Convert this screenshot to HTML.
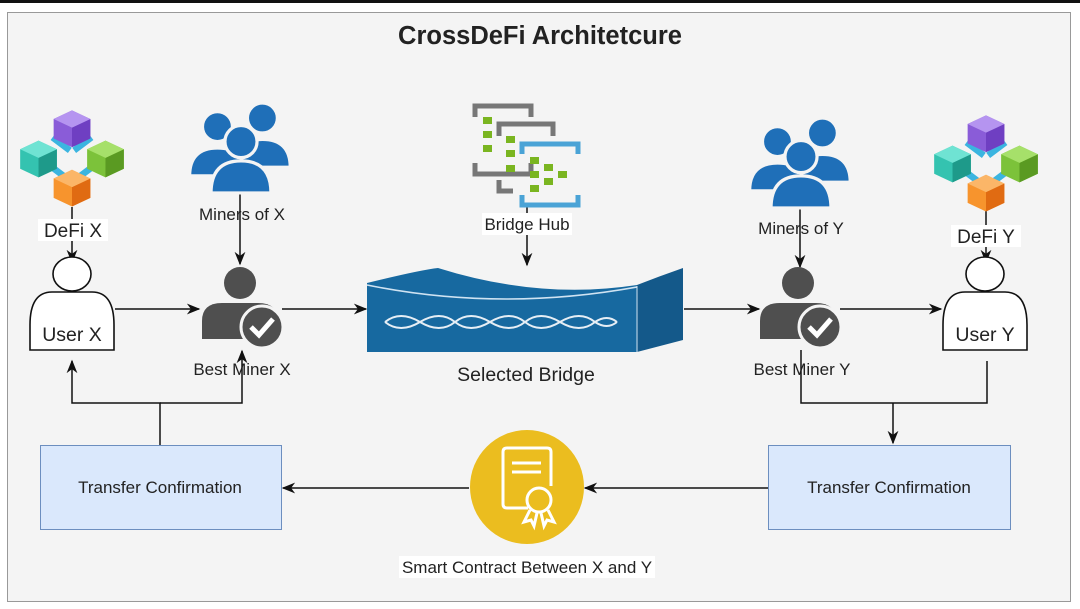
<!DOCTYPE html>
<html><head><meta charset="utf-8"><style>
html,body{margin:0;padding:0;background:#fff;width:1080px;height:609px;overflow:hidden}
text{font-family:"Liberation Sans",Arial,sans-serif;fill:#222}
</style></head><body>
<svg width="1080" height="609" viewBox="0 0 1080 609" xmlns="http://www.w3.org/2000/svg">
<defs>
<marker id="a" viewBox="0 0 10 10" refX="9" refY="5" markerWidth="9" markerHeight="9" orient="auto"><path d="M0,1 L10,5 L0,9 L3,5 Z" fill="#111"/></marker>
<g id="cubes">
<path d="M-18,-20 L-2,-8 M18,-20 L2,-8 M-18,8 L-2,20 M18,8 L2,20" stroke="#3bb5e0" stroke-width="6"/>
<g transform="translate(0,-28)"><polygon points="0,-17 17,-9 17,9 0,17 -17,9 -17,-9" fill="#8a5cd8"/><polygon points="0,-1 17,-9 17,9 0,17" fill="#6f3fc2"/><polygon points="0,-17 17,-9 0,-1 -17,-9" fill="#b594f0"/></g>
<g transform="translate(-31,0)"><polygon points="0,-17 17,-9 17,9 0,17 -17,9 -17,-9" fill="#34c3b0"/><polygon points="0,-1 17,-9 17,9 0,17" fill="#1e9a8a"/><polygon points="0,-17 17,-9 0,-1 -17,-9" fill="#6fe3d3"/></g>
<g transform="translate(31,0)"><polygon points="0,-17 17,-9 17,9 0,17 -17,9 -17,-9" fill="#7cc23a"/><polygon points="0,-1 17,-9 17,9 0,17" fill="#5a9a22"/><polygon points="0,-17 17,-9 0,-1 -17,-9" fill="#a6e06a"/></g>
<g transform="translate(0,27)"><polygon points="0,-17 17,-9 17,9 0,17 -17,9 -17,-9" fill="#f7942d"/><polygon points="0,-1 17,-9 17,9 0,17" fill="#e06b12"/><polygon points="0,-17 17,-9 0,-1 -17,-9" fill="#fbb668"/></g>
</g>
<g id="people" fill="#1f6fb8" stroke="#f4f4f4" stroke-width="3">
<circle cx="20" cy="-28" r="14"/><path d="M-6,18 Q-6,-8 20,-8 Q46,-8 46,18 Z"/>
<circle cx="-22" cy="-20" r="14"/><path d="M-48,26 Q-48,0 -22,0 Q4,0 4,26 Z"/>
<circle cx="0" cy="-6" r="15"/><path d="M-28,42 Q-28,12 0,12 Q28,12 28,42 Z"/>
</g>
<g id="best">
<circle cx="0" cy="-24" r="16" fill="#4f4f4f"/>
<path d="M-38,32 L-38,14 Q-38,-4 -18,-4 L18,-4 Q38,-4 38,14 L38,32 Z" fill="#4f4f4f"/>
<circle cx="22" cy="20" r="21" fill="#4f4f4f" stroke="#f4f4f4" stroke-width="3"/>
<path d="M11,20 L19,28 L33,12" stroke="#fff" stroke-width="5" fill="none"/>
</g>
<g id="user" fill="#fff" stroke="#111" stroke-width="1.6">
<ellipse cx="0" cy="-26" rx="19" ry="17"/>
<path d="M-42,50 L-42,25 Q-42,-8 -20,-8 L20,-8 Q42,-8 42,25 L42,50 Z"/>
</g>
</defs>
<rect width="1080" height="3" fill="#111"/>
<rect x="7.5" y="12.5" width="1063" height="589" fill="#f4f4f4" stroke="#999"/>
<text x="540" y="44" text-anchor="middle" font-size="25.5" font-weight="bold" fill="#333">CrossDeFi Architetcure</text>

<g stroke="#111" stroke-width="1.5" fill="none">
<line x1="72" y1="207" x2="72" y2="262" marker-end="url(#a)"/>
<line x1="240" y1="192" x2="240" y2="264" marker-end="url(#a)"/>
<line x1="527" y1="205" x2="527" y2="265" marker-end="url(#a)"/>
<line x1="800" y1="208" x2="800" y2="267" marker-end="url(#a)"/>
<line x1="986" y1="210" x2="986" y2="262" marker-end="url(#a)"/>
<line x1="115" y1="309" x2="199" y2="309" marker-end="url(#a)"/>
<line x1="282" y1="309" x2="366" y2="309" marker-end="url(#a)"/>
<line x1="684" y1="309" x2="759" y2="309" marker-end="url(#a)"/>
<line x1="840" y1="309" x2="941" y2="309" marker-end="url(#a)"/>
<polyline points="160,445 160,403 72,403 72,361" marker-end="url(#a)"/>
<polyline points="160,403 242,403 242,351" marker-end="url(#a)"/>
<polyline points="801,350 801,403 987,403 987,361"/>
<line x1="893" y1="403" x2="893" y2="443" marker-end="url(#a)"/>
<line x1="768" y1="488" x2="585" y2="488" marker-end="url(#a)"/>
<line x1="469" y1="488" x2="283" y2="488" marker-end="url(#a)"/>
</g>

<use href="#cubes" transform="translate(72,159) scale(1.08)"/>
<rect x="38" y="219" width="70" height="22" fill="#fff"/>
<text x="73" y="237" text-anchor="middle" font-size="19">DeFi X</text>
<use href="#user" transform="translate(72,300)"/>
<text x="72" y="341" text-anchor="middle" font-size="19.5">User X</text>

<use href="#people" transform="translate(241,148) scale(1.07)"/>
<text x="242" y="220" text-anchor="middle" font-size="17">Miners of X</text>
<use href="#best" transform="translate(240,307)"/>
<text x="242" y="375" text-anchor="middle" font-size="17">Best Miner X</text>

<g fill="none" stroke-width="5">
<path d="M475,117 V106 H531 V117 M475,163 V174 H531 V163" stroke="#777"/>
<path d="M499,136 V124 H553 V136 M499,180 V191 H513" stroke="#777"/>
<path d="M522,154 V144 H578 V154 M522,195 V205 H578 V195" stroke="#4aa3d6"/>
</g>
<g fill="#7ab520">
<rect x="483" y="117" width="9" height="7"/><rect x="483" y="131" width="9" height="7"/><rect x="483" y="145" width="9" height="7"/>
<rect x="506" y="136" width="9" height="7"/><rect x="506" y="150" width="9" height="7"/><rect x="506" y="165" width="9" height="7"/>
<rect x="530" y="157" width="9" height="7"/><rect x="530" y="171" width="9" height="7"/><rect x="530" y="185" width="9" height="7"/>
<rect x="544" y="164" width="9" height="7"/><rect x="544" y="178" width="9" height="7"/><rect x="558" y="171" width="9" height="7"/>
</g>
<rect x="482" y="213" width="90" height="22" fill="#fff"/>
<text x="527" y="230" text-anchor="middle" font-size="17">Bridge Hub</text>

<path d="M367,283 Q420,270 438,268 Q540,300 637,285 L637,352 L367,352 Z" fill="#1769a0"/>
<path d="M637,285 Q660,276 683,268 L683,340 L637,352 Z" fill="#14598a"/>
<path d="M367,285 Q500,312 637,287" stroke="#cfe3f2" stroke-width="1.5" fill="none"/>
<line x1="637" y1="286" x2="637" y2="352" stroke="#cfe3f2" stroke-width="1"/>
<g stroke="#e6eef5" stroke-width="2" fill="none">
<path d="M385,322 Q400,310 420,322 T455,322 T490,322 T525,322 T560,322 T595,322 Q607,330 617,322"/>
<path d="M385,322 Q400,334 420,322 T455,322 T490,322 T525,322 T560,322 T595,322 Q607,314 617,322"/>
</g>
<text x="526" y="381" text-anchor="middle" font-size="19.5">Selected Bridge</text>

<use href="#people" transform="translate(801,163) scale(1.07)"/>
<text x="801" y="234" text-anchor="middle" font-size="17">Miners of Y</text>
<use href="#best" transform="translate(798,307)"/>
<text x="802" y="375" text-anchor="middle" font-size="17">Best Miner Y</text>
<use href="#cubes" transform="translate(986,164) scale(1.08)"/>
<rect x="951" y="225" width="70" height="22" fill="#fff"/>
<text x="986" y="243" text-anchor="middle" font-size="19">DeFi Y</text>
<use href="#user" transform="translate(985,300)"/>
<text x="985" y="341" text-anchor="middle" font-size="19.5">User Y</text>

<rect x="40.5" y="445.5" width="241" height="84" fill="#dae8fc" stroke="#6c8ebf"/>
<text x="160" y="493" text-anchor="middle" font-size="17">Transfer Confirmation</text>
<rect x="768.5" y="445.5" width="242" height="84" fill="#dae8fc" stroke="#6c8ebf"/>
<text x="889" y="493" text-anchor="middle" font-size="17">Transfer Confirmation</text>

<circle cx="527" cy="487" r="57" fill="#ebbd1f"/>
<g stroke="#fff" stroke-width="3" fill="none">
<path d="M528,508 H507 Q503,508 503,504 V452 Q503,448 507,448 H547 Q551,448 551,452 V486"/>
<line x1="512" y1="463" x2="541" y2="463"/><line x1="512" y1="472" x2="541" y2="472"/>
<circle cx="539" cy="500" r="12"/>
<path d="M530,510 L524,522 L531,520 L534,526 L537,513 M548,510 L554,522 L547,520 L544,526 L541,513"/>
</g>
<rect x="399" y="556" width="256" height="22" fill="#fff"/>
<text x="527" y="573" text-anchor="middle" font-size="17">Smart Contract Between X and Y</text>
</svg>
</body></html>
